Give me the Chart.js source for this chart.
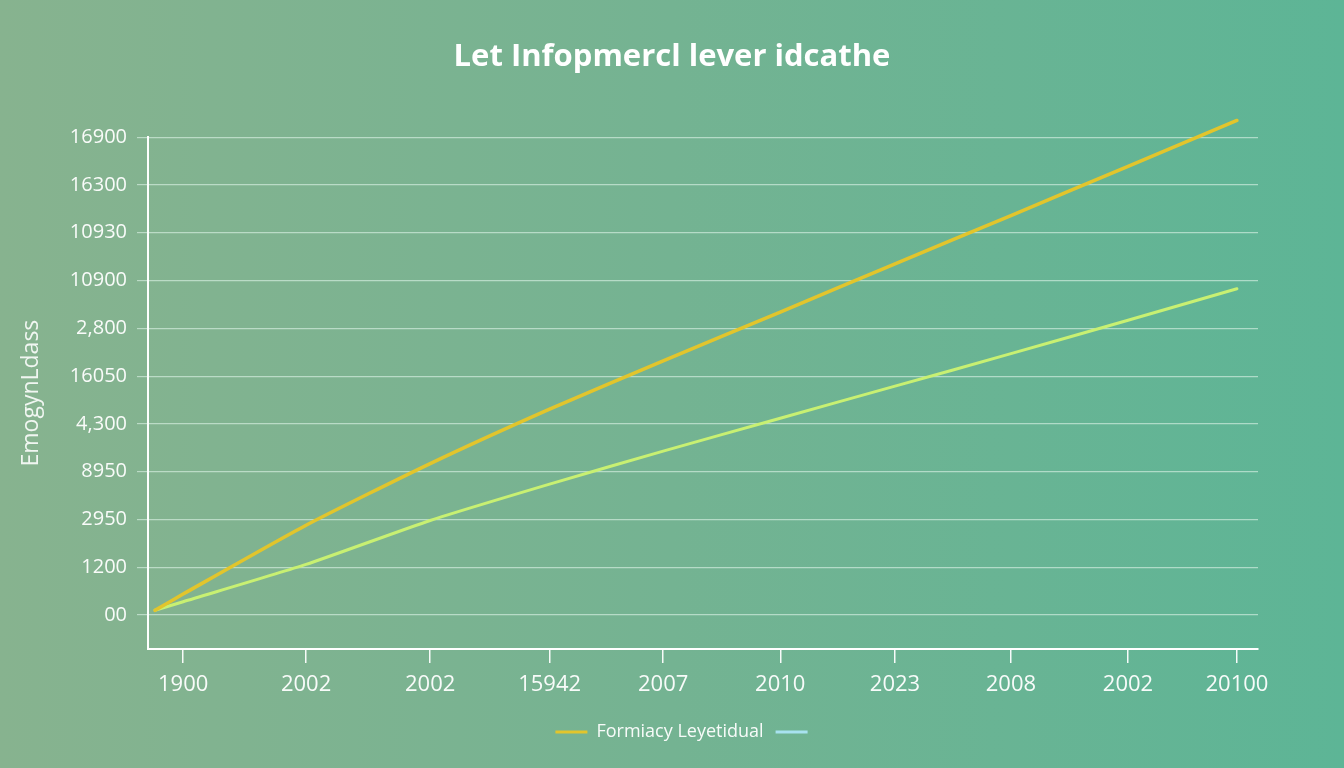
<!DOCTYPE html>
<html lang="en">
<head>
    <meta charset="UTF-8">
    <title>Let Infopmercl lever idcathe</title>
    <script src="https://cdn.jsdelivr.net/npm/chart.js"></script>
    <style>
        html, body { margin: 0; padding: 0; }
        body {
            width: 1344px;
            height: 768px;
            background: linear-gradient(90deg, #87b38f 0%, #74b392 50%, #5db596 100%);
            overflow: hidden;
        }
        #wrap { position: relative; width: 1344px; height: 768px; }
    </style>
</head>
<body>
    <div id="wrap">
        <canvas id="myChart" width="1344" height="768"></canvas>
    </div>

    <script>
        // Data
        const xLabels = ['1900', '2002', '2002', '15942', '2007', '2010', '2023', '2008', '2002', '20100'];
        const xTickPositions = [0, 1.05, 2.11, 3.13, 4.1, 5.1, 6.08, 7.07, 8.07, 9];
        const yLabels = ['00', '1200', '2950', '8950', '4,300', '16050', '2,800', '10900', '10930', '16300', '16900'];
        const xPositions = [-0.24, 0, 1.05, 2.11, 3.13, 4.1, 5.1, 6.08, 7.07, 8.07, 9];
        const yellowValues = [0.1, 0.44, 1.88, 3.17, 4.31, 5.32, 6.34, 7.35, 8.36, 9.39, 10.35];
        const greenValues = [0.1, 0.28, 1.06, 1.98, 2.74, 3.43, 4.12, 4.79, 5.47, 6.17, 6.83];

        const titleText = 'Let Infopmercl lever idcathe';
        const yTitle = 'EmogynLdass';
        const legendText = 'Formiacy Leyetidual';

        const white = 'rgba(255,255,255,0.95)';
        const gridColor = 'rgba(225,245,235,0.6)';

        Chart.defaults.font.family = "'Open Sans', 'Liberation Sans', sans-serif";
        Chart.defaults.color = white;

        const toPoints = values => values.map((v, i) => ({ x: xPositions[i], y: v }));

        // nudge the legend a little to the right, as in the original
        const legendShift = {
            id: 'legendShift',
            afterLayout(chart) {
                chart.legend.left += 14;
                chart.legend.right += 14;
            }
        };

        const ctx = document.getElementById('myChart').getContext('2d');
        const myChart = new Chart(ctx, {
            type: 'line',
            data: {
                datasets: [{
                    label: legendText,
                    data: toPoints(yellowValues),
                    borderColor: '#e2c52c',
                    borderWidth: 3.5,
                    borderCapStyle: 'round',
                    pointRadius: 0,
                    tension: 0.2,
                    clip: false
                }, {
                    label: '',
                    data: toPoints(greenValues),
                    borderColor: '#c8f072',
                    borderWidth: 3,
                    borderCapStyle: 'round',
                    pointRadius: 0,
                    tension: 0.2,
                    clip: false
                }]
            },
            plugins: [legendShift],
            options: {
                responsive: false,
                animation: false,
                layout: { padding: { left: 0, right: 0, top: 0, bottom: 17 } },
                plugins: {
                    title: {
                        display: true,
                        text: titleText,
                        color: '#ffffff',
                        font: { size: 31, weight: '700' },
                        padding: { top: 39, bottom: 61 }
                    },
                    legend: {
                        position: 'bottom',
                        labels: {
                            boxWidth: 32,
                            boxHeight: 3,
                            padding: 12,
                            color: white,
                            font: { size: 18 },
                            generateLabels: () => [
                                { text: legendText, fillStyle: '#e2c52c', strokeStyle: '#e2c52c', lineWidth: 0, fontColor: white },
                                { text: '', fillStyle: '#a8e2f0', strokeStyle: '#a8e2f0', lineWidth: 0, fontColor: white }
                            ]
                        }
                    },
                    tooltip: { enabled: false }
                },
                scales: {
                    x: {
                        type: 'linear',
                        min: -0.3,
                        max: 9.18,
                        afterBuildTicks: axis => { axis.ticks = xTickPositions.map(v => ({ value: v })); },
                        afterFit: axis => { axis.height = 62; },
                        grid: { drawOnChartArea: false, tickLength: 14, color: white, lineWidth: 1.5 },
                        border: { color: '#ffffff', width: 2 },
                        ticks: {
                            padding: 9,
                            font: { size: 22 },
                            color: white,
                            maxRotation: 0,
                            autoSkip: false,
                            callback: (value, index) => xLabels[index]
                        }
                    },
                    y: {
                        min: -0.71,
                        max: 10,
                        afterBuildTicks: axis => { axis.ticks = yLabels.map((_, i) => ({ value: i })); },
                        afterFit: axis => { axis.width = 148; },
                        grid: { color: gridColor, lineWidth: 1.2, tickLength: 11 },
                        border: { color: '#ffffff', width: 2 },
                        ticks: {
                            padding: 10,
                            font: { size: 20 },
                            color: white,
                            autoSkip: false,
                            callback: value => yLabels[value]
                        },
                        title: {
                            display: true,
                            text: yTitle,
                            color: 'rgba(255,255,255,0.88)',
                            font: { size: 23 },
                            padding: { top: 18, bottom: 0 }
                        }
                    },
                    yRight: {
                        position: 'right',
                        display: true,
                        afterFit: axis => { axis.width = 86; },
                        grid: { display: false },
                        border: { display: false },
                        ticks: { display: false }
                    }
                }
            }
        });
    </script>
</body>
</html>
